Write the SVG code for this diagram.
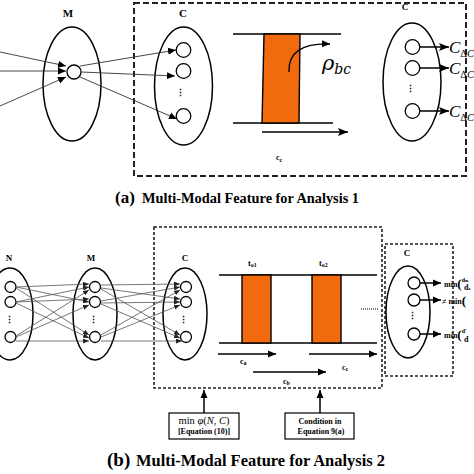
<svg xmlns="http://www.w3.org/2000/svg" width="474" height="474" viewBox="0 0 474 474">
<style>
.bg{fill:#fff}
.ell{fill:none;stroke:#000;stroke-width:1.5}
.nd{fill:#fff;stroke:#000;stroke-width:1.3}
.ln{stroke:#000;stroke-width:1.3;fill:none}
.edge{stroke:#333;stroke-width:0.9;fill:none}
.edgeb{stroke:#555;stroke-width:0.8;fill:none}
.thick{stroke:#000;stroke-width:1.5;fill:none}
.dashA{fill:none;stroke:#222;stroke-width:2;stroke-dasharray:6 3}
.dashB{fill:none;stroke:#222;stroke-width:1.6;stroke-dasharray:3 2}
.org{fill:#F26A0E;stroke:#000;stroke-width:1.4}
.lbl{font-family:"Liberation Serif",serif;font-weight:bold;font-size:9px;fill:#000;text-anchor:middle}
.lblA{font-size:11px}
.cap{font-family:"Liberation Serif",serif;font-weight:bold;fill:#000}
.math{font-family:"DejaVu Serif","Liberation Serif",serif;font-style:italic;fill:#000}
.mathC{font-family:"Liberation Serif",serif;font-style:italic;fill:#000}
.dots{font-family:"Liberation Serif",serif;font-weight:bold;font-size:9px;fill:#000;text-anchor:middle}
.sm{font-family:"Liberation Serif",serif;font-weight:bold;font-size:8px;fill:#000}
</style>
<defs>
<marker id="ah" viewBox="0 0 8 8" refX="8" refY="4" markerWidth="8" markerHeight="8" markerUnits="userSpaceOnUse" orient="auto"><path d="M0,0.5 L8,4 L0,7.5 z" fill="#000"/></marker>
<marker id="ahs" viewBox="0 0 6 6" refX="6" refY="3" markerWidth="6" markerHeight="5" markerUnits="userSpaceOnUse" orient="auto" preserveAspectRatio="none"><path d="M0,0 L6,3 L0,6 z" fill="#222"/></marker>
<marker id="ahb" viewBox="0 0 10 8" refX="10" refY="4" markerWidth="10" markerHeight="8" markerUnits="userSpaceOnUse" orient="auto"><path d="M0,0 L10,4 L0,8 L2,4 z" fill="#000"/></marker>
</defs>
<rect class="bg" x="0" y="0" width="474" height="474"/>

<!-- ===== Part (a) ===== -->
<rect class="dashA" x="134" y="3" width="332" height="173"/>

<g id="a-M">
<text class="lbl lblA" x="68" y="17">M</text>
<ellipse class="ell" cx="72" cy="84" rx="29" ry="57"/>
<circle class="nd" cx="74" cy="72" r="7"/>
</g>
<g id="a-C">
<text class="lbl lblA" x="183" y="17">C</text>
<ellipse class="ell" cx="183.5" cy="86" rx="29" ry="59"/>
<circle class="nd" cx="183.5" cy="50" r="7.3"/>
<circle class="nd" cx="183.5" cy="71" r="7.3"/>
<circle class="nd" cx="183.5" cy="116" r="7.3"/>
<text class="dots" x="180" y="96">⋮</text>
</g>
<g id="a-channel">
<line class="ln" x1="233" y1="34" x2="341" y2="34"/>
<line class="ln" x1="233" y1="123" x2="333" y2="123"/>
<polygon class="org" points="264,34 300,34 299,123 262,123"/>
<text class="math" x="322" y="70" font-size="21">ρ<tspan font-size="14" dy="4">bc</tspan></text>
<text class="sm" x="276" y="160">c<tspan font-size="6" dy="2">c</tspan></text>
</g>
<g id="a-C2">
<text class="lbl" x="405" y="10" font-size="10">C</text>
<ellipse class="ell" cx="412" cy="82" rx="29" ry="59"/>
<circle class="nd" cx="412.5" cy="47" r="7.3"/>
<circle class="nd" cx="412.5" cy="68" r="7.3"/>
<circle class="nd" cx="412.5" cy="111" r="7.3"/>
<text class="dots" x="410" y="92">⋮</text>
<text class="mathC" x="449" y="53" font-size="17">C<tspan font-size="10.5" dy="4"><tspan font-style="normal">Δ</tspan>C</tspan></text>
<text class="mathC" x="449" y="74" font-size="17">C<tspan font-size="10.5" dy="4"><tspan font-style="normal">Δ</tspan>C</tspan></text>
<text class="mathC" x="449" y="117" font-size="17">C<tspan font-size="10.5" dy="4"><tspan font-style="normal">Δ</tspan>C</tspan></text>
</g>
<g id="a-connectors">
<line class="edge" x1="0" y1="52" x2="66" y2="66" marker-end="url(#ah)"/>
<line class="edge" x1="0" y1="71" x2="66" y2="71" marker-end="url(#ah)"/>
<line class="edge" x1="0" y1="106" x2="66" y2="77" marker-end="url(#ah)"/>
<line class="edge" x1="80" y1="66" x2="176" y2="50" marker-end="url(#ah)"/>
<line class="edge" x1="81" y1="72" x2="175" y2="76" marker-end="url(#ah)"/>
<line class="edge" x1="80" y1="77" x2="177" y2="119" marker-end="url(#ah)"/>
<path class="ln" stroke-width="1" d="M289,72 C288,52 303,43 330,44" marker-end="url(#ah)"/>
<line class="thick" x1="262" y1="132" x2="348" y2="132" marker-end="url(#ahb)"/>
<line class="thick" x1="420" y1="47" x2="449" y2="47" marker-end="url(#ahb)"/>
<line class="thick" x1="420" y1="68" x2="449" y2="68" marker-end="url(#ahb)"/>
<line class="thick" x1="420" y1="111" x2="449" y2="111" marker-end="url(#ahb)"/>
</g>
<text class="cap" x="115" y="203"><tspan font-size="17">(a)</tspan><tspan font-size="15" x="142" textLength="217" lengthAdjust="spacingAndGlyphs">Multi-Modal Feature for Analysis 1</tspan></text>

<!-- ===== Part (b) ===== -->
<rect class="dashB" x="154" y="227" width="228" height="161"/>
<rect class="dashB" x="385" y="244" width="68" height="132"/>

<g id="b-N">
<text class="lbl" x="9" y="261">N</text>
<ellipse class="ell" cx="10" cy="314" rx="23" ry="46"/>
<circle class="nd" cx="10.5" cy="287" r="5.5"/>
<circle class="nd" cx="10.5" cy="302" r="5.5"/>
<circle class="nd" cx="10.5" cy="337" r="5.5"/>
<text class="dots" x="9" y="323" font-size="8">⋮</text>
</g>
<g id="b-M">
<text class="lbl" x="91" y="261">M</text>
<ellipse class="ell" cx="95" cy="314" rx="22" ry="46"/>
<circle class="nd" cx="95" cy="287" r="5.5"/>
<circle class="nd" cx="95" cy="302" r="5.5"/>
<circle class="nd" cx="95" cy="337" r="5.5"/>
<text class="dots" x="93" y="323" font-size="8">⋮</text>
</g>
<g id="b-C">
<text class="lbl" x="185" y="261">C</text>
<ellipse class="ell" cx="185" cy="314" rx="22" ry="46"/>
<circle class="nd" cx="186" cy="287" r="5.5"/>
<circle class="nd" cx="186" cy="302" r="5.5"/>
<circle class="nd" cx="186" cy="337" r="5.5"/>
<text class="dots" x="183" y="323" font-size="8">⋮</text>
</g>
<g id="b-channel">
<line class="ln" x1="219" y1="275" x2="377" y2="275"/>
<line class="ln" x1="219" y1="343" x2="377" y2="343"/>
<rect class="org" x="242" y="275" width="29" height="68"/>
<rect class="org" x="312" y="275" width="29" height="68"/>
<text class="sm" x="248" y="266">t<tspan font-size="6" dy="1">o1</tspan></text>
<text class="sm" x="319" y="266">t<tspan font-size="6" dy="1">o2</tspan></text>
<line x1="361" y1="309" x2="379" y2="309" stroke="#000" stroke-width="1" stroke-dasharray="1 1"/>
<text class="sm" x="240" y="364">c<tspan font-size="6" dy="1">a</tspan></text>
<text class="sm" x="342" y="370">c<tspan font-size="6" dy="1">c</tspan></text>
<text class="sm" x="283" y="384">c<tspan font-size="6" dy="1">b</tspan></text>
</g>
<g id="b-C2">
<text class="lbl" x="407" y="256">C</text>
<ellipse class="ell" cx="408" cy="312" rx="22" ry="46"/>
<circle class="nd" cx="414" cy="283" r="6"/>
<circle class="nd" cx="414" cy="300" r="6"/>
<circle class="nd" cx="414" cy="334" r="6"/>
<text class="dots" x="412" y="319" font-size="8">⋮</text>
<text class="sm" x="444" y="287" font-size="9">min<tspan font-size="13" dy="1">(</tspan><tspan font-size="6" dy="-6">d</tspan><tspan font-size="4">m</tspan></text>
<text class="sm" x="464" y="290" font-size="6">d<tspan font-size="4">a</tspan></text>
<text class="sm" x="442" y="304" font-size="9">≠ min<tspan font-size="13" dy="1">(</tspan></text>
<text class="sm" x="444" y="338" font-size="9">min<tspan font-size="13" dy="1">(</tspan><tspan font-size="6" dy="-6">d'</tspan></text>
<text class="sm" x="464" y="342" font-size="6">d</text>
</g>
<g id="b-box1">
<rect x="169" y="413" width="70" height="26" fill="#fff" stroke="#000" stroke-width="1.2"/>
<text x="204" y="424" text-anchor="middle" font-family="Liberation Serif,serif" font-size="10.5">min <tspan font-style="italic">φ</tspan>(<tspan font-style="italic">N</tspan>, <tspan font-style="italic">C</tspan>)</text>
<text x="204" y="434" text-anchor="middle" class="sm" font-size="7">[Equation (10)]</text>
</g>
<g id="b-box2">
<rect x="285" y="413" width="69" height="26" fill="#fff" stroke="#000" stroke-width="1.2"/>
<text x="320" y="424" text-anchor="middle" class="sm" font-size="7.5">Condition in</text>
<text x="321" y="434" text-anchor="middle" class="sm" font-size="7.5">Equation 9(a)</text>
</g>
<g id="b-connectors">
<line class="edgeb" x1="16" y1="287" x2="89" y2="284" marker-end="url(#ahs)"/>
<line class="edgeb" x1="16" y1="287" x2="89" y2="302" marker-end="url(#ahs)"/>
<line class="edgeb" x1="16" y1="288" x2="89" y2="335" marker-end="url(#ahs)"/>
<line class="edgeb" x1="16" y1="302" x2="89" y2="287" marker-end="url(#ahs)"/>
<line class="edgeb" x1="16" y1="302" x2="89" y2="299" marker-end="url(#ahs)"/>
<line class="edgeb" x1="16" y1="303" x2="89" y2="338" marker-end="url(#ahs)"/>
<line class="edgeb" x1="16" y1="336" x2="89" y2="290" marker-end="url(#ahs)"/>
<line class="edgeb" x1="16" y1="337" x2="89" y2="305" marker-end="url(#ahs)"/>
<line class="edgeb" x1="16" y1="341" x2="89" y2="341" marker-end="url(#ahs)"/>
<line class="edgeb" x1="101" y1="285" x2="180" y2="284" marker-end="url(#ahs)"/>
<line class="edgeb" x1="101" y1="288" x2="180" y2="299" marker-end="url(#ahs)"/>
<line class="edgeb" x1="101" y1="289" x2="180" y2="335" marker-end="url(#ahs)"/>
<line class="edgeb" x1="101" y1="301" x2="180" y2="287" marker-end="url(#ahs)"/>
<line class="edgeb" x1="101" y1="303" x2="180" y2="302" marker-end="url(#ahs)"/>
<line class="edgeb" x1="101" y1="304" x2="180" y2="338" marker-end="url(#ahs)"/>
<line class="edgeb" x1="101" y1="335" x2="180" y2="290" marker-end="url(#ahs)"/>
<line class="edgeb" x1="101" y1="337" x2="180" y2="305" marker-end="url(#ahs)"/>
<line class="edgeb" x1="101" y1="341" x2="182" y2="341" marker-end="url(#ahs)"/>
<line class="thick" stroke-width="1.2" x1="218" y1="354" x2="276" y2="354" marker-end="url(#ah)"/>
<line class="thick" stroke-width="1.2" x1="309" y1="354" x2="377" y2="354" marker-end="url(#ah)"/>
<line class="thick" stroke-width="1.2" x1="253" y1="372" x2="326" y2="372" marker-end="url(#ah)"/>
<line class="thick" stroke-width="1.3" x1="420" y1="283" x2="441" y2="283" marker-end="url(#ah)"/>
<line class="thick" stroke-width="1.3" x1="420" y1="300" x2="441" y2="300" marker-end="url(#ah)"/>
<line class="thick" stroke-width="1.3" x1="420" y1="334" x2="441" y2="334" marker-end="url(#ah)"/>
<line class="thick" stroke-width="2" x1="204" y1="413" x2="204" y2="390" marker-end="url(#ah)"/>
<line class="thick" stroke-width="2" x1="320" y1="413" x2="320" y2="390" marker-end="url(#ah)"/>
</g>
<text class="cap" x="107" y="466"><tspan font-size="19">(b)</tspan><tspan font-size="16.5" x="136" textLength="249" lengthAdjust="spacingAndGlyphs">Multi-Modal Feature for Analysis 2</tspan></text>
</svg>
